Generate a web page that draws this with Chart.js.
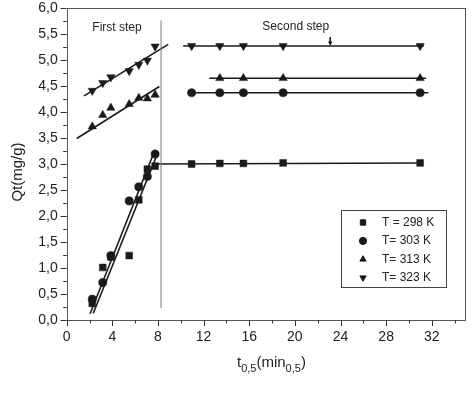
<!DOCTYPE html>
<html>
<head>
<meta charset="utf-8">
<script src="https://cdn.jsdelivr.net/npm/chart.js@4/dist/chart.umd.min.js"></script>
<style>
html,body{margin:0;padding:0;background:#fff;}
#wrap{width:474px;height:399px;}
</style>
</head>
<body>
<div id="wrap"><canvas id="c" width="474" height="399"></canvas></div>
<script>
// sqrt(t) values
const tFirst = [2.24, 3.16, 3.87, 5.48, 6.32, 7.07, 7.75];
const tSecond = [10.95, 13.42, 15.49, 18.97, 30.98];

const seriesLabels = ['T = 298 K', 'T= 303 K', 'T= 313 K', 'T= 323 K'];
const q298First = [0.32, 1.01, 1.21, 1.24, 2.31, 2.90, 2.96];
const q298Second = [3.00, 3.01, 3.01, 3.02, 3.02];
const q303First = [0.40, 0.72, 1.24, 2.29, 2.56, 2.76, 3.19];
const q303Second = [4.37, 4.37, 4.37, 4.37, 4.37];
const q313First = [3.72, 3.94, 4.08, 4.15, 4.27, 4.26, 4.33];
const q313Second = [null, 4.65, 4.65, 4.65, 4.65];
const q323First = [4.41, 4.56, 4.67, 4.79, 4.91, 4.99, 5.26];
const q323Second = [5.27, 5.27, 5.27, 5.27, 5.27];

// fitted lines: [x0, x1], [y0, y1]
const fit298X = [2.33, 8.0], fit298Y = [0.13, 3.22];
const fit303X = [2.05, 7.75], fit303Y = [0.12, 3.28];
const fit313X = [0.88, 8.12], fit313Y = [3.49, 4.49];
const fit323X = [1.52, 8.9], fit323Y = [4.31, 5.30];
const plat298X = [7.66, 30.98], plat298Y = [3.00, 3.02];
const plat303X = [10.6, 31.7], plat303Y = [4.37, 4.37];
const plat313X = [12.5, 31.5], plat313Y = [4.65, 4.65];
const plat323X = [10.2, 31.3], plat323Y = [5.27, 5.27];

const sepX = [8.27, 8.27], sepY = [0.23, 5.76];
const arrowX = [23.1, 23.1], arrowY = [5.44, 5.30];

const xTicksMajor = [0, 4, 8, 12, 16, 20, 24, 28, 32];

const FONT = "'Liberation Sans', Arial, Helvetica, sans-serif";
const INK = '#1a1a1a';

function pts(xs, ys) { return xs.map((x, i) => ({x: x, y: ys[i]})).filter(p => p.y !== null); }
function lineDs(xs, ys, color, width) {
  return {type: 'line', data: pts(xs, ys), borderColor: color || INK, borderWidth: width || 1.6,
    pointRadius: 0, showLine: true, fill: false, tension: 0, order: 2};
}
function markDs(label, xs, ys, style, rot, r) {
  return {type: 'scatter', label: label, data: pts(xs, ys), pointStyle: style, rotation: rot,
    pointRadius: r, backgroundColor: INK, borderColor: INK, borderWidth: 0.5, showLine: false, order: 1};
}

const markers = [
  ['rect', 0, 4.8, q298First, q298Second],
  ['circle', 0, 4.1, q303First, q303Second],
  ['triangle', 0, 4.8, q313First, q313Second],
  ['triangle', 180, 4.8, q323First, q323Second]
];

const datasets = [
  lineDs(sepX, sepY, '#777', 1),
  lineDs(fit298X, fit298Y), lineDs(fit303X, fit303Y), lineDs(fit313X, fit313Y), lineDs(fit323X, fit323Y),
  lineDs(plat298X, plat298Y), lineDs(plat303X, plat303Y), lineDs(plat313X, plat313Y), lineDs(plat323X, plat323Y),
  lineDs(arrowX, arrowY, INK, 1)
];
markers.forEach((m, i) => {
  datasets.push(markDs(seriesLabels[i], tFirst.concat(tSecond), m[3].concat(m[4]), m[0], m[1], m[2]));
});
// arrow head
datasets.push(markDs('', [arrowX[1]], [arrowY[1] + 0.03], 'triangle', 180, 2.2));

const deco = {
  id: 'deco',
  afterDraw(chart) {
    const ctx = chart.ctx, ca = chart.chartArea;
    const xs = chart.scales.x, ys = chart.scales.y;
    ctx.save();
    // frame
    ctx.strokeStyle = '#555'; ctx.lineWidth = 1;
    ctx.strokeRect(Math.round(ca.left) + 0.5, Math.round(ca.top) + 0.5, Math.round(ca.right - ca.left) - 1, Math.round(ca.bottom - ca.top));
    // ticks
    ctx.strokeStyle = '#333';
    ctx.beginPath();
    for (let v = 0; v <= 34; v += 2) {
      const px = Math.round(xs.getPixelForValue(v)) + 0.5;
      const len = (v % 4 === 0) ? 6 : 3.5;
      ctx.moveTo(px, ca.bottom); ctx.lineTo(px, ca.bottom + len);
    }
    for (let k = 0; k <= 24; k++) {
      const v = k * 0.25;
      const py = Math.round(ys.getPixelForValue(v)) + 0.5;
      const len = (k % 2 === 0) ? 6 : 3.5;
      ctx.moveTo(ca.left, py); ctx.lineTo(ca.left - len, py);
    }
    ctx.stroke();

    ctx.fillStyle = '#222';
    // annotations
    ctx.font = '12px ' + FONT;
    ctx.textBaseline = 'middle'; ctx.textAlign = 'left';
    ctx.fillText('First step', xs.getPixelForValue(2.25), ys.getPixelForValue(5.63));
    ctx.fillText('Second step', xs.getPixelForValue(17.15), ys.getPixelForValue(5.65));

    // x title with subscripts
    let x = 237, yb = 367;
    ctx.textBaseline = 'alphabetic';
    const parts = [['t', 15, 0], ['0,5', 11, 5], ['(min', 15, 0], ['0,5', 11, 5], [')', 15, 0]];
    parts.forEach(p => {
      ctx.font = p[1] + 'px ' + FONT;
      ctx.fillText(p[0], x, yb + p[2]);
      x += ctx.measureText(p[0]).width;
    });
    // y title
    ctx.save();
    ctx.translate(22, 172);
    ctx.rotate(-Math.PI / 2);
    ctx.font = '15px ' + FONT;
    ctx.textAlign = 'center';
    ctx.fillText('Qt(mg/g)', 0, 0);
    ctx.restore();

    // legend box
    const bx = ca.right - 125, by = ca.bottom - 110, bw = 105, bh = 77;
    ctx.strokeStyle = '#444'; ctx.lineWidth = 1;
    ctx.strokeRect(Math.round(bx) + 0.5, Math.round(by) + 0.5, bw, bh);
    ctx.font = '12px ' + FONT;
    ctx.textBaseline = 'middle';
    ctx.textAlign = 'left';
    markers.forEach((m, i) => {
      const ry = by + 12.5 + i * 18.4;
      ctx.fillStyle = INK; ctx.strokeStyle = INK;
      Chart.helpers.drawPoint(ctx, {pointStyle: m[0], rotation: m[1], radius: m[0] === 'rect' ? 3.8 : 3.6, borderWidth: 0.5}, bx + 22, ry);
      ctx.fillStyle = '#222';
      ctx.fillText(seriesLabels[i], bx + 41, ry);
    });
    ctx.restore();
  }
};

new Chart(document.getElementById('c'), {
  type: 'scatter',
  data: {datasets: datasets},
  plugins: [deco],
  options: {
    responsive: false,
    animation: false,
    layout: {padding: {left: 0, top: 8, right: 8, bottom: 0}},
    plugins: {legend: {display: false}, tooltip: {enabled: false}},
    scales: {
      x: {
        type: 'linear', min: 0, max: 35,
        afterFit(s) { s.height = 79; s.paddingLeft = 0; s.paddingRight = 0; },
        afterBuildTicks(s) { s.ticks = xTicksMajor.map(v => ({value: v})); },
        ticks: {includeBounds: false, color: '#222', font: {family: FONT, size: 14}, padding: 9, maxRotation: 0},
        grid: {display: true, drawOnChartArea: false, drawTicks: false},
        border: {display: false}
      },
      y: {
        type: 'linear', min: 0, max: 6,
        afterFit(s) { s.width = 66.7; s.paddingTop = 0; s.paddingBottom = 0; },
        ticks: {stepSize: 0.5, includeBounds: false, color: '#222', font: {family: FONT, size: 14}, padding: 9,
          callback: v => v.toFixed(1).replace('.', ',')},
        grid: {display: true, drawOnChartArea: false, drawTicks: false},
        border: {display: false}
      }
    }
  }
});
</script>
</body>
</html>
